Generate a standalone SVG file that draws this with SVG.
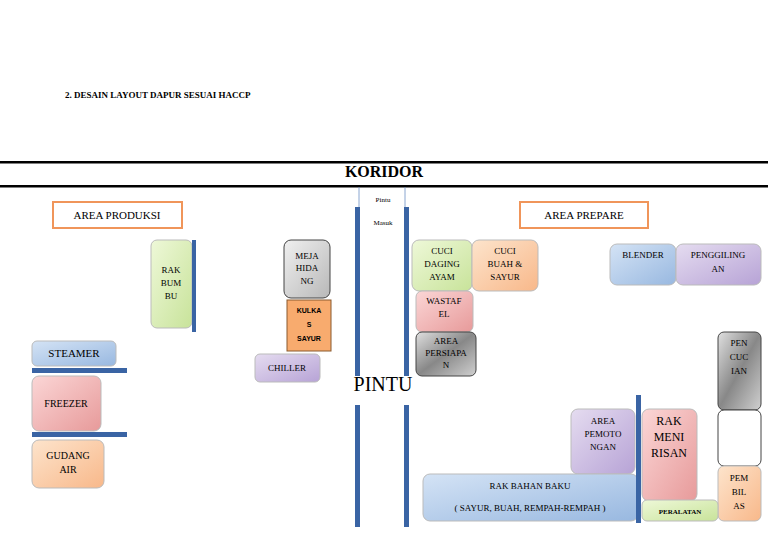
<svg xmlns="http://www.w3.org/2000/svg" width="768" height="543" viewBox="0 0 768 543" font-family="Liberation Serif, DejaVu Serif, serif">
<defs>
<linearGradient id="gG" x1="0" y1="0" x2="1" y2="1"><stop offset="0" stop-color="#eef8d8"/><stop offset="1" stop-color="#c8e39a"/></linearGradient>
<linearGradient id="gO" x1="0" y1="0" x2="1" y2="1"><stop offset="0" stop-color="#fde4cc"/><stop offset="1" stop-color="#f8b88a"/></linearGradient>
<linearGradient id="gP" x1="0" y1="0" x2="1" y2="1"><stop offset="0" stop-color="#fbd6d6"/><stop offset="1" stop-color="#e79a9a"/></linearGradient>
<linearGradient id="gB" x1="0" y1="0" x2="1" y2="1"><stop offset="0" stop-color="#d4e3f5"/><stop offset="1" stop-color="#98b8e0"/></linearGradient>
<linearGradient id="gV" x1="0" y1="0" x2="1" y2="1"><stop offset="0" stop-color="#e5dcf0"/><stop offset="1" stop-color="#b7a3d6"/></linearGradient>
<linearGradient id="gK" x1="0" y1="0" x2="1" y2="1"><stop offset="0" stop-color="#e0e0e0"/><stop offset="0.5" stop-color="#888"/><stop offset="1" stop-color="#d0d0d0"/></linearGradient>
<linearGradient id="gL" x1="0" y1="0" x2="1" y2="1"><stop offset="0" stop-color="#f0f0f0"/><stop offset="1" stop-color="#b8b8b8"/></linearGradient>
</defs>
<style>
text{font-family:'Liberation Serif','DejaVu Serif',serif;text-anchor:middle;fill:#000}
.s{font-size:9px}
.k{font-family:'Liberation Sans',sans-serif;font-size:7px;font-weight:bold}
.b{stroke:#bbb;stroke-width:1}
.bar{fill:#3a64a4}
.lbl{fill:#fff;stroke:#f0955a;stroke-width:2}
</style>
<text x="65" y="98" style="text-anchor:start;font-size:9px;font-weight:bold">2. DESAIN LAYOUT DAPUR SESUAI HACCP</text>
<g id="koridor">
<rect x="0" y="161" width="768" height="2.5" fill="#000"/>
<rect x="0" y="185" width="768" height="2.5" fill="#000"/>
<text x="384" y="177" style="font-size:16px;font-weight:bold">KORIDOR</text>
</g>
<g id="pintu">
<line x1="359" y1="187" x2="359" y2="210" stroke="#6d8fc4" stroke-width="0.8"/>
<line x1="405" y1="187" x2="405" y2="210" stroke="#6d8fc4" stroke-width="0.8"/>
<rect class="bar" x="355" y="207" width="5" height="169"/>
<rect class="bar" x="404" y="207" width="5" height="169"/>
<rect class="bar" x="355" y="405" width="5" height="122"/>
<rect class="bar" x="404" y="405" width="5" height="122"/>
<text x="383" y="202" style="font-size:7px">Pintu</text>
<text x="383" y="225" style="font-size:7px">Masuk</text>
<text x="383" y="391" style="font-size:20px">PINTU</text>
</g>
<g id="area-produksi"><rect class="lbl" x="53" y="202" width="129" height="26"/><text x="117" y="219" style="font-size:11px">AREA PRODUKSI</text></g>
<g id="area-prepare"><rect class="lbl" x="520" y="202" width="128" height="26"/><text x="584" y="219" style="font-size:11px">AREA PREPARE</text></g>
<g id="rak-bumbu"><rect class="b" x="151" y="240" width="41" height="88" rx="6" fill="url(#gG)"/><rect class="bar" x="192" y="240" width="4" height="92"/><text class="s" x="171" y="273">RAK</text><text class="s" x="171" y="286">BUM</text><text class="s" x="171" y="299">BU</text></g>
<g id="meja"><rect x="284" y="240" width="46" height="58" rx="7" fill="url(#gL)" stroke="#444"/><text class="s" x="307" y="259">MEJA</text><text class="s" x="307" y="271">HIDA</text><text class="s" x="307" y="284">NG</text></g>
<g id="kulkas"><rect x="287" y="300" width="44" height="51" fill="#f8ab6e" stroke="#8a5a2e"/><text class="k" x="309" y="313">KULKA</text><text class="k" x="309" y="327">S</text><text class="k" x="309" y="341">SAYUR</text></g>
<g id="chiller"><rect class="b" x="255" y="354" width="65" height="28" rx="5" fill="url(#gV)"/><text class="s" x="287" y="371">CHILLER</text></g>
<g id="steamer"><rect class="b" x="32" y="341" width="84" height="25" rx="5" fill="url(#gB)"/><rect class="bar" x="32" y="368" width="95" height="5"/><text x="74" y="357" style="font-size:11px">STEAMER</text></g>
<g id="freezer"><rect class="b" x="32" y="376" width="69" height="55" rx="7" fill="url(#gP)"/><rect class="bar" x="32" y="432" width="95" height="5"/><text x="66" y="407" style="font-size:10px">FREEZER</text></g>
<g id="gudang"><rect class="b" x="32" y="440" width="72" height="48" rx="7" fill="url(#gO)"/><text x="68" y="459" style="font-size:10px">GUDANG</text><text x="68" y="473" style="font-size:10px">AIR</text></g>
<g id="cuci-daging"><rect class="b" x="412" y="240" width="60" height="51" rx="7" fill="url(#gG)"/><text class="s" x="442" y="254">CUCI</text><text class="s" x="442" y="267">DAGING</text><text class="s" x="442" y="280">AYAM</text></g>
<g id="cuci-buah"><rect class="b" x="472" y="240" width="66" height="51" rx="7" fill="url(#gO)"/><text class="s" x="505" y="254">CUCI</text><text class="s" x="505" y="267">BUAH &amp;</text><text class="s" x="505" y="280">SAYUR</text></g>
<g id="wastafel"><rect class="b" x="416" y="291" width="57" height="41" rx="6" fill="url(#gP)"/><text class="s" x="444" y="304">WASTAF</text><text class="s" x="444" y="317">EL</text></g>
<g id="persiapan"><rect x="416" y="332" width="60" height="44" rx="6" fill="url(#gK)" stroke="#444"/><text class="s" x="446" y="344">AREA</text><text class="s" x="446" y="356">PERSIAPA</text><text class="s" x="446" y="368">N</text></g>
<g id="blender"><rect class="b" x="610" y="244" width="66" height="41" rx="7" fill="url(#gB)"/><text class="s" x="643" y="258">BLENDER</text></g>
<g id="penggilingan"><rect class="b" x="676" y="244" width="85" height="41" rx="7" fill="url(#gV)"/><text class="s" x="718" y="258">PENGGILING</text><text class="s" x="718" y="272">AN</text></g>
<g id="pencucian"><rect x="718" y="332" width="43" height="78" rx="6" fill="url(#gK)" stroke="#444"/><text class="s" x="739" y="346">PEN</text><text class="s" x="739" y="360">CUC</text><text class="s" x="739" y="374">IAN</text></g>
<g id="kosong"><rect x="718" y="410" width="43" height="56" rx="6" fill="#fff" stroke="#444"/></g>
<g id="pembilas"><rect class="b" x="718" y="466" width="43" height="55" rx="6" fill="url(#gO)"/><text class="s" x="739" y="481">PEM</text><text class="s" x="739" y="495">BIL</text><text class="s" x="739" y="509">AS</text></g>
<g id="pemotongan"><rect class="b" x="571" y="409" width="64" height="65" rx="7" fill="url(#gV)"/><text class="s" x="603" y="424">AREA</text><text class="s" x="603" y="437">PEMOTO</text><text class="s" x="603" y="450">NGAN</text></g>
<g id="rak-bahan"><rect class="b" x="423" y="474" width="215" height="47" rx="7" fill="url(#gB)"/><text class="s" x="530" y="489">RAK BAHAN BAKU</text><text class="s" x="530" y="511">( SAYUR, BUAH, REMPAH-REMPAH )</text></g>
<g id="bar-tengah"><rect class="bar" x="636" y="395" width="5" height="128"/></g>
<g id="menirisan"><rect class="b" x="642" y="409" width="55" height="92" rx="7" fill="url(#gP)"/><text x="669" y="425" style="font-size:12px">RAK</text><text x="669" y="441" style="font-size:12px">MENI</text><text x="669" y="457" style="font-size:12px">RISAN</text></g>
<g id="peralatan"><rect class="b" x="642" y="500" width="76" height="21" rx="5" fill="url(#gG)"/><text x="680" y="514" style="font-size:7px;font-weight:bold">PERALATAN</text></g>
</svg>
